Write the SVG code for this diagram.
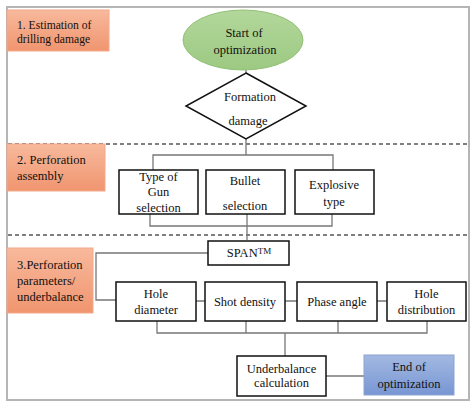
<svg xmlns="http://www.w3.org/2000/svg" width="474" height="408" viewBox="0 0 474 408">
<defs>
<linearGradient id="gOr" x1="0" y1="0" x2="0" y2="1">
<stop offset="0" stop-color="#f8b99c"/>
<stop offset="1" stop-color="#f0956f"/>
</linearGradient>
<linearGradient id="gBl" x1="0" y1="0" x2="0" y2="1">
<stop offset="0" stop-color="#a3b9e2"/>
<stop offset="1" stop-color="#7896d3"/>
</linearGradient>
<linearGradient id="gGr" x1="0" y1="0" x2="0" y2="1">
<stop offset="0" stop-color="#b3d79b"/>
<stop offset="1" stop-color="#9cc982"/>
</linearGradient>
</defs>
<style>
.c{text-anchor:middle}
.box{fill:#fff;stroke:#111;stroke-width:1.5}
.stage{fill:url(#gOr);stroke:#f4a98a;stroke-width:1}
.conn{fill:none;stroke:#777;stroke-width:1.3}
.dash{fill:none;stroke:#555;stroke-width:1.5;stroke-dasharray:4 3}
</style>
<rect x="7" y="7" width="462" height="393" fill="#fff" stroke="#b5b5b5" stroke-width="2"/>
<g id="separators">
<line class="dash" x1="8" y1="144" x2="468" y2="144"/>
<line class="dash" x1="8" y1="235" x2="468" y2="235"/>
</g>
<g id="connectors">
<path class="conn" d="M246,70 V73"/>
<path class="conn" d="M246,139 V155"/>
<path class="conn" d="M153,170 V155 H333 V170"/>
<path class="conn" d="M150,214 V226 H332 V214"/>
<path class="conn" d="M247,214 V240"/>
<path class="conn" d="M208,253 H96 V300 H116"/>
<path class="conn" d="M196,301 H205 M285,301 H297 M377,301 H387"/>
<path class="conn" d="M157,321 V333 H427 V321 M246,321 V333 M338,321 V333 M285,333 V356"/>
<path class="conn" d="M326,376 H364"/>
</g>
<g font-family="Liberation Serif, Times New Roman, Times, serif" font-size="12.5" fill="#111">
<g id="stage1">
<rect class="stage" x="7" y="10" width="102" height="41"/>
<text x="17" y="29" font-size="11.6">1. Estimation of</text>
<text x="17" y="43" font-size="11.6">drilling damage</text>
</g>
<g id="start">
<ellipse cx="243" cy="40" rx="60" ry="30" fill="url(#gGr)" stroke="#93c176" stroke-width="1"/>
<text class="c" x="244" y="37">Start of</text>
<text class="c" x="245" y="54">optimization</text>
</g>
<g id="formation">
<polygon class="box" points="246,73 306,106 246,139 186,106"/>
<text class="c" x="250" y="101">Formation</text>
<text class="c" x="248" y="125">damage</text>
</g>
<g id="stage2">
<rect class="stage" x="7" y="144" width="98" height="47"/>
<text x="17" y="164">2. Perforation</text>
<text x="17" y="180">assembly</text>
</g>
<g id="gun">
<rect class="box" x="119" y="170" width="79" height="44"/>
<text class="c" x="158.5" y="181">Type of</text>
<text class="c" x="158.5" y="196">Gun</text>
<text class="c" x="158.5" y="212">selection</text>
</g>
<g id="bullet">
<rect class="box" x="206" y="170" width="79" height="44"/>
<text class="c" x="245" y="185">Bullet</text>
<text class="c" x="245" y="210">selection</text>
</g>
<g id="explosive">
<rect class="box" x="295" y="170" width="79" height="44"/>
<text class="c" x="334" y="189">Explosive</text>
<text class="c" x="334" y="206">type</text>
</g>
<g id="span">
<rect class="box" x="208" y="241" width="81" height="24"/>
<text class="c" x="249" y="257">SPAN<tspan dy="-3" font-size="9">TM</tspan></text>
</g>
<g id="stage3">
<rect class="stage" x="7" y="248" width="86" height="65"/>
<text x="17" y="269">3.Perforation</text>
<text x="17" y="285">parameters/</text>
<text x="17" y="301">underbalance</text>
</g>
<g id="holediameter">
<rect class="box" x="116" y="282" width="80" height="39"/>
<text class="c" x="156" y="298">Hole</text>
<text class="c" x="156" y="314">diameter</text>
</g>
<g id="shotdensity">
<rect class="box" x="205" y="282" width="80" height="39"/>
<text class="c" x="245" y="306">Shot density</text>
</g>
<g id="phaseangle">
<rect class="box" x="297" y="282" width="80" height="39"/>
<text class="c" x="337" y="306">Phase angle</text>
</g>
<g id="holedistribution">
<rect class="box" x="387" y="282" width="79" height="39"/>
<text class="c" x="426.5" y="298">Hole</text>
<text class="c" x="426.5" y="314">distribution</text>
</g>
<g id="underbalance">
<rect class="box" x="237" y="356" width="89" height="40"/>
<text class="c" x="281.5" y="373">Underbalance</text>
<text class="c" x="281.5" y="387">calculation</text>
</g>
<g id="end">
<rect x="364" y="355" width="90" height="40" fill="url(#gBl)" stroke="#8ea3cf" stroke-width="1"/>
<text class="c" x="409" y="371">End of</text>
<text class="c" x="409" y="388">optimization</text>
</g>
</g>
</svg>
